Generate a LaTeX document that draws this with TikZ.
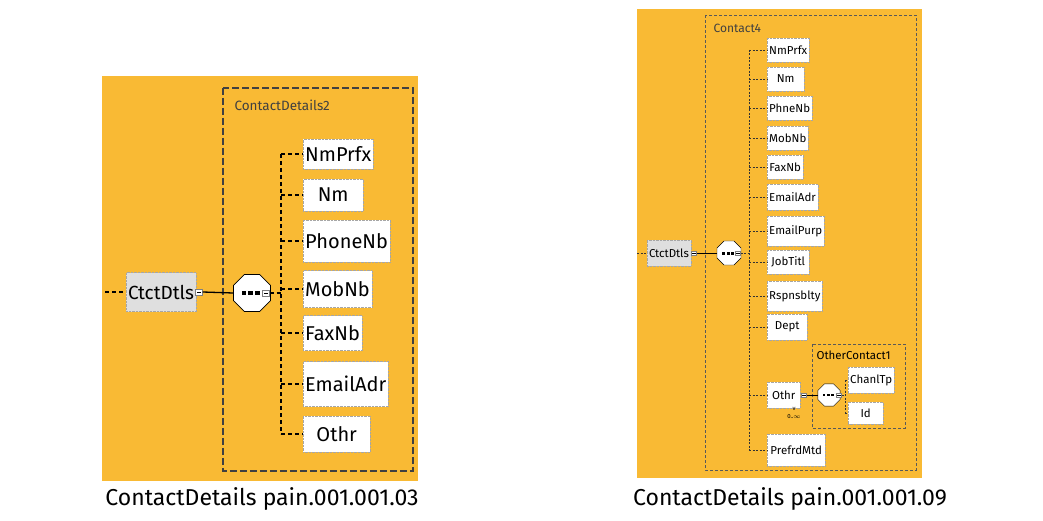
\documentclass[tikz,border=0pt]{standalone}
\usepackage{fontspec}
\setmainfont{Fira Sans}
\usetikzlibrary{shapes.geometric}
\definecolor{org}{HTML}{F9BA34}
\tikzset{
 el/.style={draw=gray!70,densely dotted,fill=white,anchor=west,inner sep=2pt},
 root/.style={draw=gray!70,densely dotted,fill=gray!25,inner sep=2pt},
 grp/.style={draw=black!75,dash pattern=on 7pt off 3pt,line width=1.3pt},
 grps/.style={draw=black!65,dash pattern=on 3pt off 2pt,line width=0.6pt},
 lnk/.style={black,dash pattern=on 4pt off 3pt,line width=1.3pt},
 lnks/.style={black!80,dash pattern=on 2pt off 1.5pt,line width=0.5pt},
 seq/.style={regular polygon,regular polygon sides=8,draw,fill=white,inner sep=0pt},
 mn/.style={draw=gray,fill=white,inner sep=0pt,minimum width=7pt,minimum height=6pt,
   path picture={\draw[black,line width=0.5pt] ([xshift=-1.8pt]path picture bounding box.center) -- ([xshift=1.8pt]path picture bounding box.center);}},
}
\newcommand{\sqs}[2]{\begin{scope}[shift={(#1.center)},x=#2,y=#2]
\fill (-2.3,-0.5) rectangle (-1.3,0.5);
\fill (-0.8,-0.5) rectangle (0.2,0.5);
\fill (0.7,-0.5) rectangle (1.7,0.5);
\end{scope}}
\begin{document}
\begin{tikzpicture}[x=1pt,y=-1pt]
\useasboundingbox (0,0) rectangle (1043,521);
% ---------- left
\fill[org] (102,76) rectangle (418,481);
\draw[grp] (223,88) rectangle (413,471);
\node[anchor=west,font=\fontsize{13.5}{15}\selectfont,text=black!75] (t1) at (231,105) {ContactDetails2};
\node[root,minimum width=68pt,minimum height=39pt,font=\fontsize{19}{22}\selectfont] (r1) at (161,292) {CtctDtls};
\node[mn] (m1) at (199,292) {};
\node[seq,minimum size=40pt,line width=0.8pt] (o1) at (252,293) {};
\sqs{o1}{4.5pt}
\node[mn] (m2) at (266,293) {};
\coordinate (s1) at (105,292);
\draw[lnk] (s1) -- (r1.west);
\draw[line width=1.3pt] (m1.east) -- (o1.west);
\coordinate (tr1) at (281,0);
\begin{scope}[font=\fontsize{20}{22}\selectfont]
\node[el,minimum width=67pt,minimum height=30pt] (a1) at (303,154) {NmPrfx};
\node[el,minimum width=60pt,minimum height=32pt] (a2) at (303,195) {Nm};
\node[el,minimum width=77pt,minimum height=42pt] (a3) at (303,241) {PhoneNb};
\node[el,minimum width=67pt,minimum height=37pt] (a4) at (303,289) {MobNb};
\node[el,minimum width=57pt,minimum height=35pt] (a5) at (303,333) {FaxNb};
\node[el,minimum width=85pt,minimum height=45pt] (a6) at (303,384) {EmailAdr};
\node[el,minimum width=67pt,minimum height=36pt] (a7) at (303,434) {Othr};
\end{scope}
\draw[lnk] (tr1 |- a1.west) -- (tr1 |- a7.west);
\draw[lnk] (m2.east) -- (tr1 |- m2.east);
\foreach \n in {a1,a2,a3,a4,a5,a6,a7}{\draw[lnk] (tr1 |- \n.west) -- (\n.west);}
\node[font=\fontsize{23}{26}\selectfont] (c1) at (262,499) {ContactDetails pain.001.001.03};
% ---------- right
\fill[org] (637,9) rectangle (922,478);
\draw[grps] (705,15) rectangle (916,470);
\node[anchor=west,font=\fontsize{12}{14}\selectfont,text=black!75] (t2) at (710,28) {Contact4};
\node[root,minimum width=44pt,minimum height=26pt,font=\fontsize{11.5}{13}\selectfont] (r2) at (669,253) {CtctDtls};
\node[mn,minimum width=5pt,minimum height=4pt] (n1) at (694,253) {};
\node[seq,minimum size=26pt] (o2) at (729,253) {};
\sqs{o2}{3pt}
\node[mn,minimum width=5pt,minimum height=4pt] (n2) at (738,253) {};
\coordinate (s2) at (637,253);
\draw[lnks] (s2) -- (r2.west);
\draw (n1.east) -- (o2.west);
\coordinate (tr2) at (749,0);
\begin{scope}[font=\fontsize{11.5}{13}\selectfont,inner sep=1.5pt]
\node[el,minimum width=41pt,minimum height=24pt] (b1) at (767,50) {NmPrfx};
\node[el,minimum width=37pt,minimum height=24pt] (b2) at (767,79) {Nm};
\node[el,minimum width=43pt,minimum height=24pt] (b3) at (767,108) {PhneNb};
\node[el,minimum width=38pt,minimum height=24pt] (b4) at (767,138) {MobNb};
\node[el,minimum width=36pt,minimum height=24pt] (b5) at (767,167) {FaxNb};
\node[el,minimum width=44pt,minimum height=26pt] (b6) at (767,197) {EmailAdr};
\node[el,minimum width=54pt,minimum height=30pt] (b7) at (767,231) {EmailPurp};
\node[el,minimum width=42pt,minimum height=24pt] (b8) at (767,262) {JobTitl};
\node[el,minimum width=54pt,minimum height=30pt] (b9) at (767,296) {Rspnsblty};
\node[el,minimum width=40pt,minimum height=26pt] (b10) at (767,327) {Dept};
\node[el,minimum width=33pt,minimum height=26pt] (b11) at (767,395) {Othr};
\node[el,minimum width=58pt,minimum height=32pt] (b12) at (767,450) {PrefrdMtd};
\end{scope}
\draw[lnks] (tr2 |- b1.west) -- (tr2 |- b12.west);
\draw[lnks] (n2.east) -- (tr2 |- n2.east);
\foreach \n in {b1,b2,b3,b4,b5,b6,b7,b8,b9,b10,b11,b12}{\draw[lnks] (tr2 |- \n.west) -- (\n.west);}
\node[font=\fontsize{6}{6}\selectfont,inner sep=0pt] (cv) at (794,409) {v};
\node[font=\fontsize{6}{6}\selectfont,inner sep=0pt] (card) at (794,416) {0..\(\infty\)};
% OtherContact1
\draw[grps] (812,344) rectangle (905,428);
\node[anchor=west,font=\fontsize{11.5}{13}\selectfont] (t3) at (813,355) {OtherContact1};
\node[mn,minimum width=5pt,minimum height=4pt] (n3) at (804,395) {};
\node[seq,minimum size=24pt] (o3) at (829,395) {};
\sqs{o3}{2.8pt}
\node[mn,minimum width=5pt,minimum height=4pt] (n4) at (839,395) {};
\draw (n3.east) -- (o3.west);
\coordinate (tr3) at (845,0);
\begin{scope}[font=\fontsize{11.5}{13}\selectfont,inner sep=1.5pt]
\node[el,minimum width=45pt,minimum height=26pt] (d1) at (848,380) {ChanlTp};
\node[el,minimum width=35pt,minimum height=22pt] (d2) at (848,413) {Id};
\end{scope}
\draw[lnks] (tr3 |- d1.west) -- (tr3 |- d2.west);
\draw[lnks] (n4.east) -- (tr3 |- n4.east);
\foreach \n in {d1,d2}{\draw[lnks] (tr3 |- \n.west) -- (\n.west);}
\node[font=\fontsize{23}{26}\selectfont] (c2) at (790,499) {ContactDetails pain.001.001.09};
\end{tikzpicture}
\end{document}
